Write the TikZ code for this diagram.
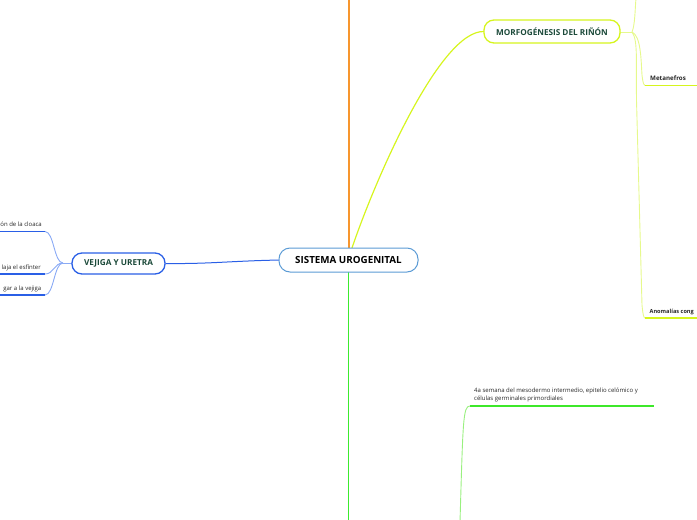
\documentclass[tikz,border=0pt]{standalone}
\usepackage{fontspec}
\setmainfont{Open Sans}
\definecolor{cborder}{HTML}{5B9BD5}
\definecolor{orangeL}{HTML}{F7962E}
\definecolor{greenL}{HTML}{3CEB2E}
\definecolor{greenT}{HTML}{3DE82A}
\definecolor{greenB}{HTML}{99F07F}
\definecolor{yelL}{HTML}{D6F51E}
\definecolor{yelB}{HTML}{E6F98C}
\definecolor{blueL}{HTML}{2A5FE6}
\definecolor{blueB}{HTML}{8AAAF5}
\definecolor{txtG}{HTML}{1C4A3A}
\tikzset{
  mainbox/.style={draw=cborder, line width=1pt, rounded corners=11pt, fill=white, minimum width=139pt, minimum height=24pt, inner sep=0pt, font=\bfseries\fontsize{9.8}{11}\selectfont},
  subbox/.style={line width=1.3pt, rounded corners=10pt, fill=white, inner sep=0pt, text=txtG, font=\bfseries\fontsize{8.2}{9}\selectfont},
  leaf/.style={inner sep=0pt, font=\fontsize{6}{7}\selectfont, text=black!85},
  leafb/.style={inner sep=0pt, font=\bfseries\fontsize{6.2}{7}\selectfont, text=black!85},
}
\begin{document}
\begin{tikzpicture}[x=1pt,y=-1pt]
\useasboundingbox (0,0) rectangle (697,520);
\clip (0,0) rectangle (697,520);
\coordinate (ctop) at (348.5,248);
\coordinate (cbot) at (348.5,272);
\coordinate (ytop) at (352,248);
\coordinate (otop) at (348.5,-2);
\coordinate (gend) at (348.5,522);
% main vertical lines
\draw[orangeL, line width=2pt] (ctop) -- (otop);
\draw[greenL, line width=1.5pt] (cbot) -- (gend);
% yellow main connector
\coordinate (mwest) at (484,31.5);
\draw[yelL, line width=1.2pt] (ytop) .. controls (375,180) and (440,30) .. (mwest);
% morfogenesis subtree
\coordinate (mb) at (632,32);
\coordinate (mtopoff) at (636,-2);
\coordinate (met1) at (645,85.5);
\coordinate (met2) at (697,85.5);
\coordinate (ano1) at (645,318);
\coordinate (ano2) at (697,318);
\draw[yelB, line width=0.9pt] (620,32) -- (mb);
\draw[yelB, line width=0.9pt] (mb) .. controls (635,25) and (635,10) .. (mtopoff);
\draw[yelB, line width=0.9pt] (mb) .. controls (641,36) and (641,60) .. (642,75) .. controls (643,84) and (644,85.5) .. (met1);
\draw[yelB, line width=0.9pt] (mb) .. controls (638,40) and (636,60) .. (636.5,100) -- (642,305) .. controls (643,316) and (644,318) .. (ano1);
\draw[yelL, line width=1.6pt] (met1) -- (met2);
\draw[yelL, line width=1.6pt] (ano1) -- (ano2);
\node[leafb, anchor=base west] (metan) at (650,80) {Metanefros};
\node[leafb, anchor=base west, font=\bfseries\fontsize{5.6}{7}\selectfont] (anom) at (649.5,313.5) {Anomalías cong};
% vejiga subtree
\coordinate (vb) at (63,263);
\coordinate (l1a) at (45,231.5);
\coordinate (l1b) at (-2,231.5);
\coordinate (l2a) at (45,274);
\coordinate (l2b) at (-2,274);
\coordinate (l3a) at (45,295);
\coordinate (l3b) at (-2,295);
\draw[blueB, line width=0.9pt] (72,263) -- (vb);
\draw[blueB, line width=0.9pt] (vb) .. controls (54,263) and (54,231.5) .. (l1a);
\draw[blueB, line width=0.9pt] (vb) .. controls (54,263) and (54,274) .. (l2a);
\draw[blueB, line width=0.9pt] (vb) .. controls (54,263) and (54,295) .. (l3a);
\draw[blueL, line width=1.6pt] (l1a) -- (l1b);
\draw[blueL, line width=1.6pt] (l2a) -- (l2b);
\draw[blueL, line width=1.6pt] (l3a) -- (l3b);
\node[leaf, anchor=base east] (t1) at (42,226) {ón de la cloaca};
\node[leaf, anchor=base east] (t2) at (41,269.5) {laja el esfínter};
\node[leaf, anchor=base east] (t3) at (41.5,290) {gar a la vejiga};
% green subtree
\coordinate (gs) at (460,522);
\coordinate (g1) at (470,406);
\coordinate (g2) at (654,406);
\draw[greenB, line width=0.9pt] (gs) .. controls (463,420) and (463,406) .. (g1);
\draw[greenT, line width=1.6pt] (g1) -- (g2);
\node[leaf, anchor=base west, align=left, font=\fontsize{6}{8.4}\selectfont] (gtext) at (474,400.5) {4a semana del mesodermo intermedio, epitelio celómico y\\células germinales primordiales};
% nodes
\node[subbox, draw=yelL, minimum width=136pt, minimum height=23pt] (m) at (552,31.5) {MORFOGÉNESIS DEL RIÑÓN};
\node[subbox, draw=blueL, minimum width=93pt, minimum height=21pt] (v) at (118.5,263.5) {VEJIGA Y URETRA};
\draw[blueL, line width=1pt] (280,260) .. controls (230,261) and (210,264) .. (v.east);
\node[mainbox] (c) at (348.5,260) {SISTEMA UROGENITAL};
\end{tikzpicture}
\end{document}
